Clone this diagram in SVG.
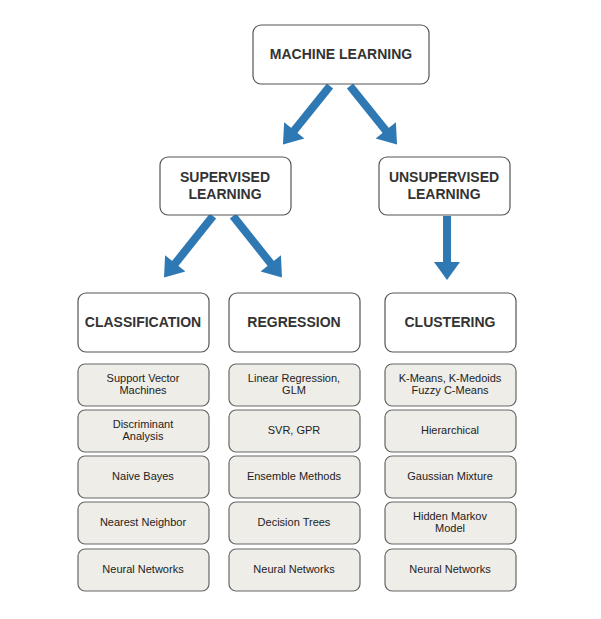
<svg xmlns="http://www.w3.org/2000/svg" width="601" height="619" viewBox="0 0 601 619">
<style>
.h{fill:#fff;stroke:#555;stroke-width:1.2}
.i{fill:#efede8;stroke:#666;stroke-width:1.2}
.ht{font-family:"Liberation Sans",Arial,sans-serif;font-weight:bold;font-size:14px;fill:#333;text-anchor:middle}
.it{font-family:"Liberation Sans",Arial,sans-serif;font-size:11px;fill:#222;text-anchor:middle}
.c{stroke:#2e78b3;stroke-width:8;fill:none;marker-end:url(#a)}
</style>
<defs><marker id="a" markerUnits="userSpaceOnUse" markerWidth="26" markerHeight="26" refX="2" refY="13" orient="auto" viewBox="0 0 18 26"><path d="M0 0L18 13L0 26Z" fill="#2e78b3"/></marker></defs>
<rect width="601" height="619" fill="#fff"/>
<g id="connectors">
<line class="c" x1="330" y1="86" x2="293" y2="132"/>
<line class="c" x1="350" y1="86" x2="387" y2="132"/>
<line class="c" x1="213" y1="216" x2="174" y2="265"/>
<line class="c" x1="233" y1="216" x2="272" y2="265"/>
<line class="c" x1="447" y1="216" x2="447" y2="264"/>
</g>
<g id="ml"><rect class="h" x="253" y="25" width="176" height="59" rx="8"/><text class="ht" x="341" y="59">MACHINE LEARNING</text></g>
<g id="sup"><rect class="h" x="160" y="157" width="131" height="58" rx="8"/><text class="ht" x="225" y="182">SUPERVISED</text><text class="ht" x="225" y="199">LEARNING</text></g>
<g id="unsup"><rect class="h" x="379" y="157" width="131" height="58" rx="8"/><text class="ht" x="444" y="182">UNSUPERVISED</text><text class="ht" x="444" y="199">LEARNING</text></g>
<g id="cls"><rect class="h" x="78" y="293" width="131" height="59" rx="8"/><text class="ht" x="143" y="327">CLASSIFICATION</text></g>
<g id="reg"><rect class="h" x="229" y="293" width="131" height="59" rx="8"/><text class="ht" x="294" y="327">REGRESSION</text></g>
<g id="clu"><rect class="h" x="385" y="293" width="131" height="59" rx="8"/><text class="ht" x="450" y="327">CLUSTERING</text></g>
<g id="c1"><rect class="i" x="78" y="364" width="131" height="42" rx="7"/><text class="it" x="143" y="382">Support Vector</text><text class="it" x="143" y="394">Machines</text></g>
<g id="c2"><rect class="i" x="78" y="410" width="131" height="42" rx="7"/><text class="it" x="143" y="428">Discriminant</text><text class="it" x="143" y="440">Analysis</text></g>
<g id="c3"><rect class="i" x="78" y="456" width="131" height="42" rx="7"/><text class="it" x="143" y="480">Naive Bayes</text></g>
<g id="c4"><rect class="i" x="78" y="502" width="131" height="42" rx="7"/><text class="it" x="143" y="526">Nearest Neighbor</text></g>
<g id="c5"><rect class="i" x="78" y="549" width="131" height="42" rx="7"/><text class="it" x="143" y="573">Neural Networks</text></g>
<g id="r1"><rect class="i" x="229" y="364" width="131" height="42" rx="7"/><text class="it" x="294" y="382">Linear Regression,</text><text class="it" x="294" y="394">GLM</text></g>
<g id="r2"><rect class="i" x="229" y="410" width="131" height="42" rx="7"/><text class="it" x="294" y="434">SVR, GPR</text></g>
<g id="r3"><rect class="i" x="229" y="456" width="131" height="42" rx="7"/><text class="it" x="294" y="480">Ensemble Methods</text></g>
<g id="r4"><rect class="i" x="229" y="502" width="131" height="42" rx="7"/><text class="it" x="294" y="526">Decision Trees</text></g>
<g id="r5"><rect class="i" x="229" y="549" width="131" height="42" rx="7"/><text class="it" x="294" y="573">Neural Networks</text></g>
<g id="u1"><rect class="i" x="385" y="364" width="131" height="42" rx="7"/><text class="it" x="450" y="382">K-Means, K-Medoids</text><text class="it" x="450" y="394">Fuzzy C-Means</text></g>
<g id="u2"><rect class="i" x="385" y="410" width="131" height="42" rx="7"/><text class="it" x="450" y="434">Hierarchical</text></g>
<g id="u3"><rect class="i" x="385" y="456" width="131" height="42" rx="7"/><text class="it" x="450" y="480">Gaussian Mixture</text></g>
<g id="u4"><rect class="i" x="385" y="502" width="131" height="42" rx="7"/><text class="it" x="450" y="520">Hidden Markov</text><text class="it" x="450" y="532">Model</text></g>
<g id="u5"><rect class="i" x="385" y="549" width="131" height="42" rx="7"/><text class="it" x="450" y="573">Neural Networks</text></g>
</svg>
